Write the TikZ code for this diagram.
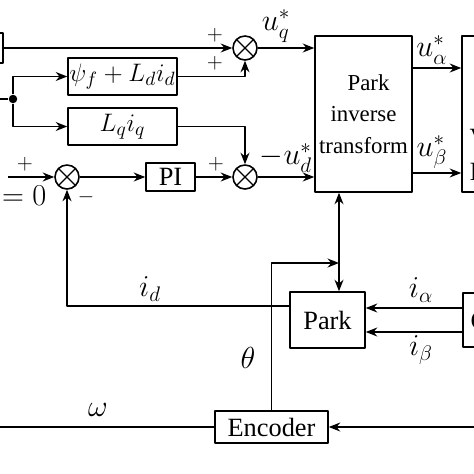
\documentclass[tikz,border=0pt]{standalone}
\usepackage{fontspec}
\setmainfont{Liberation Serif}
\usetikzlibrary{arrows.meta}
\tikzset{
	blk/.style={draw, line width=0.9pt, inner sep=0pt, font=\fontsize{15}{18}\selectfont},
	sumj/.style={circle, draw, line width=0.9pt, minimum size=0.48cm, inner sep=0pt,
		path picture={\draw[line width=0.8pt] (path picture bounding box.south west)--(path picture bounding box.north east)
			(path picture bounding box.north west)--(path picture bounding box.south east);}},
	sig/.style={font=\fontsize{17}{20}\selectfont},
	sgn/.style={font=\fontsize{13}{15}\selectfont}
}
\begin{document}
\begin{tikzpicture}[x=0.02cm, y=-0.02cm, line width=0.9pt, line join=round, >={Stealth[length=2.3mm,width=1.8mm]}]
	\useasboundingbox (0,0) rectangle (474,474);
	% blocks
	\node[blk, minimum width=1cm, minimum height=0.6cm] (spd) at (-22,48) {};
	\node[sumj] (sumq) at (245,48) {};
	\node[blk, minimum width=2.18cm, minimum height=0.74cm] (psi) at (122.5,76.5) {$\psi_f + L_d i_d$};
	\node[blk, minimum width=2.18cm, minimum height=0.74cm] (lq) at (122.5,126.5) {$L_q i_q$};
	\node[circle, fill, minimum size=0.17cm, inner sep=0pt] (dot) at (13,99) {};
	\node[sumj] (sumi) at (67,177) {};
	\node[blk, minimum width=0.98cm, minimum height=0.56cm] (pi) at (170.5,177) {PI};
	\node[sumj] (sumd) at (245,177) {};
	\node[blk, minimum width=1.94cm, minimum height=3.12cm, align=center, font=\fontsize{13}{18}\selectfont] (ipark) at (363.5,114) {\hspace*{0.2cm}Park\\inverse\\transform};
	\node[blk, minimum width=2cm, minimum height=3.12cm] (svm) at (512,114) {};
	\node[blk, minimum width=1.5cm, minimum height=1.12cm] (park) at (327.5,320) {Park};
	\node[blk, minimum width=2cm, minimum height=1.08cm] (clarke) at (513,320) {};
	\node[blk, minimum width=2.26cm, minimum height=0.64cm] (enc) at (271.5,427) {Encoder};
	% texts cut by the border
	\node[anchor=west, font=\fontsize{15}{18}\selectfont] at (463,140) {Voltage};
	\node[anchor=west, font=\fontsize{15}{18}\selectfont] at (463,172) {Inverter};
	\node[anchor=west, font=\fontsize{15}{18}\selectfont] at (464,320) {Clarke};
	% free ends
	\coordinate (inl) at (0,99);
	\coordinate (idref) at (8,177);
	\coordinate (tht) at (339,263);
	\coordinate (wout) at (0,427);
	\coordinate (motor) at (474,427);
	% connectors
	\draw[->] (spd.east) -- (sumq.west);
	\draw[->] (psi.east) -| (sumq.south);
	\draw (inl) -- (dot);
	\draw[->] (dot) |- (psi.west);
	\draw[->] (dot) |- (lq.west);
	\draw[->] (lq.east) -| (sumd.north);
	\draw[->] (idref) -- (sumi.west);
	\draw[->] (sumi.east) -- (pi.west);
	\draw[->] (pi.east) -- (sumd.west);
	\draw[->] (sumq.east) -- (ipark.west |- sumq);
	\draw[->] (sumd.east) -- (ipark.west |- sumd);
	\draw[->] ([yshift=0.92cm]ipark.east) -- ([yshift=0.92cm]svm.west);
	\draw[->] ([yshift=-1.18cm]ipark.east) -- ([yshift=-1.18cm]svm.west);
	\draw[->] ([yshift=0.24cm]clarke.west) -- ([yshift=0.24cm]park.east);
	\draw[->] ([yshift=-0.24cm]clarke.west) -- ([yshift=-0.24cm]park.east);
	\draw[->] ([yshift=0.28cm]park.west) -| (sumi.south);
	\draw[<->] (park.north -| tht) -- (ipark.south -| tht);
	\draw[->] (enc.north) |- (tht);
	\draw (enc.west) -- (wout);
	\draw[->] (motor) -- (enc.east);
	% signs and labels
	\node[sgn] at (215,35) {$+$};
	\node[sgn] at (215,63) {$+$};
	\node[sgn] at (25,164) {$+$};
	\node[sgn] at (86,197) {$-$};
	\node[sgn] at (216,164) {$+$};
	\node[sig] at (20,196) {${}=0$};
	\node[sig] at (276,26) {$u_q^*$};
	\node[sig] at (286,158) {$-u_d^*$};
	\node[sig] at (432,50) {$u_\alpha^*$};
	\node[sig] at (432,152) {$u_\beta^*$};
	\node[sig] at (150,289) {$i_d$};
	\node[sig] at (421,290) {$i_\alpha$};
	\node[sig] at (421,350) {$i_\beta$};
	\node[sig] at (248,358) {$\theta$};
	\node[sig] at (98,410) {$\omega$};
\end{tikzpicture}
\end{document}
